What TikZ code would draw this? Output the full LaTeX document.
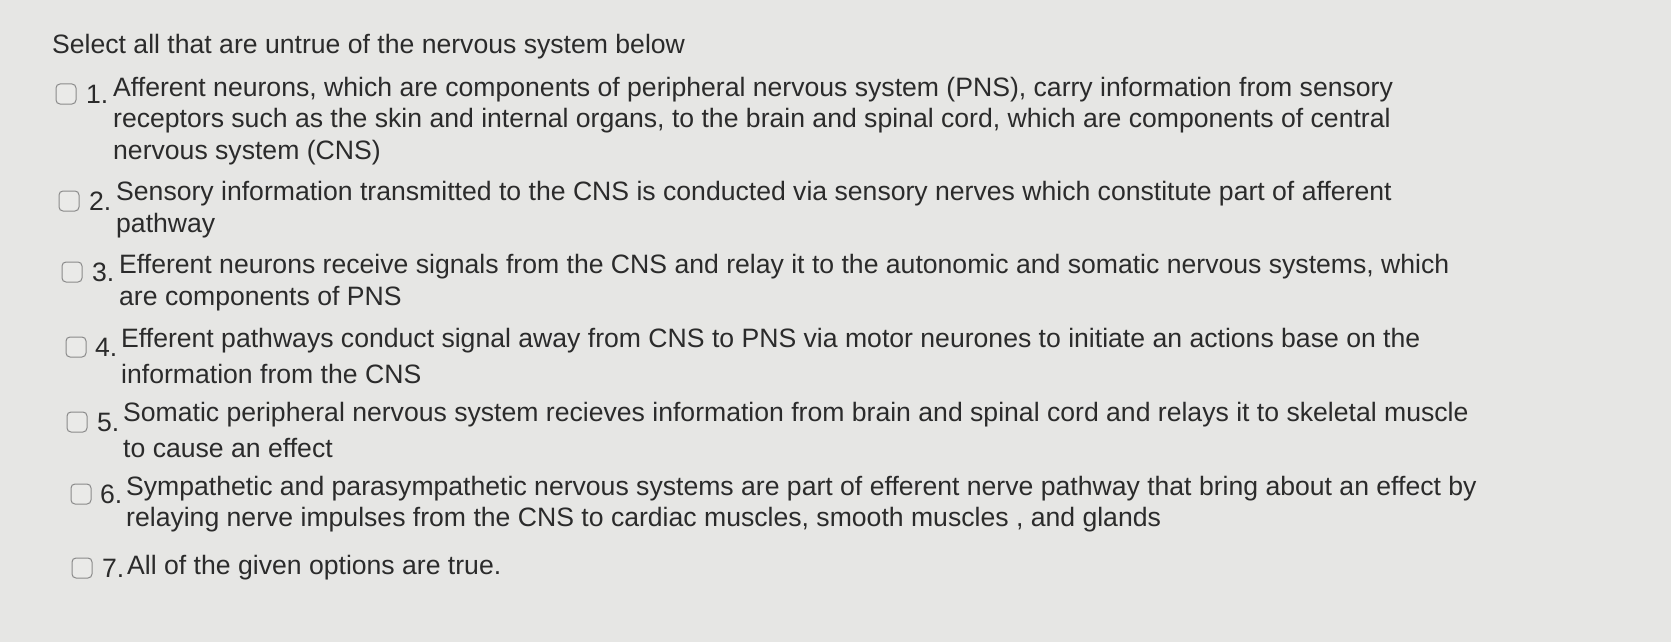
\documentclass[tikz,border=0pt]{standalone}
\usepackage{fontspec}
\setmainfont{Liberation Sans}
\definecolor{bg}{HTML}{E6E6E4}
\definecolor{ink}{HTML}{2B2B2B}
\definecolor{boxc}{HTML}{8A8A8A}
\tikzset{
  txt/.style={anchor=west,inner sep=0pt,text=ink,font=\fontsize{26.6}{30}\selectfont},
  cbox/.style={draw=boxc,fill=bg!85!white,rounded corners=4pt,minimum width=20pt,minimum height=20pt,inner sep=0pt,line width=1pt}
}
\begin{document}
\begin{tikzpicture}[x=1pt,y=-1pt]
\fill[bg] (0,0) rectangle (1671,642);
\useasboundingbox (0,0) rectangle (1671,642);
\node[txt] (t) at (52,47) {Select all that are untrue of the nervous system below};
% item 1
\node[cbox] (c1) at (66,94) {};
\node[txt] (n1) at (86,94) {1.};
\node[txt] (a1) at (113,90) {Afferent neurons, which are components of peripheral nervous system (PNS), carry information from sensory};
\node[txt] (b1) at (113,121) {receptors such as the skin and internal organs, to the brain and spinal cord, which are components of central};
\node[txt] (d1) at (113,153) {nervous system (CNS)};
% item 2
\node[cbox] (c2) at (69,201) {};
\node[txt] (n2) at (89,201) {2.};
\node[txt] (a2) at (116,194) {Sensory information transmitted to the CNS is conducted via sensory nerves which constitute part of afferent};
\node[txt] (b2) at (116,226) {pathway};
% item 3
\node[cbox] (c3) at (72,272) {};
\node[txt] (n3) at (92,272) {3.};
\node[txt] (a3) at (119,267) {Efferent neurons receive signals from the CNS and relay it to the autonomic and somatic nervous systems, which};
\node[txt] (b3) at (119,299) {are components of PNS};
% item 4
\node[cbox] (c4) at (76,347) {};
\node[txt] (n4) at (95,347) {4.};
\node[txt] (a4) at (121,341) {Efferent pathways conduct signal away from CNS to PNS via motor neurones to initiate an actions base on the};
\node[txt] (b4) at (121,374) {information from the CNS};
% item 5
\node[cbox] (c5) at (77,422) {};
\node[txt] (n5) at (97,422) {5.};
\node[txt] (a5) at (123,415) {Somatic peripheral nervous system recieves information from brain and spinal cord and relays it to skeletal muscle};
\node[txt] (b5) at (123,448) {to cause an effect};
% item 6
\node[cbox] (c6) at (81,494) {};
\node[txt] (n6) at (100,494) {6.};
\node[txt] (a6) at (126,489) {Sympathetic and parasympathetic nervous systems are part of efferent nerve pathway that bring about an effect by};
\node[txt] (b6) at (126,520) {relaying nerve impulses from the CNS to cardiac muscles, smooth muscles , and glands};
% item 7
\node[cbox] (c7) at (82,568) {};
\node[txt] (n7) at (102,568) {7.};
\node[txt] (a7) at (127,568) {All of the given options are true.};
\end{tikzpicture}
\end{document}
